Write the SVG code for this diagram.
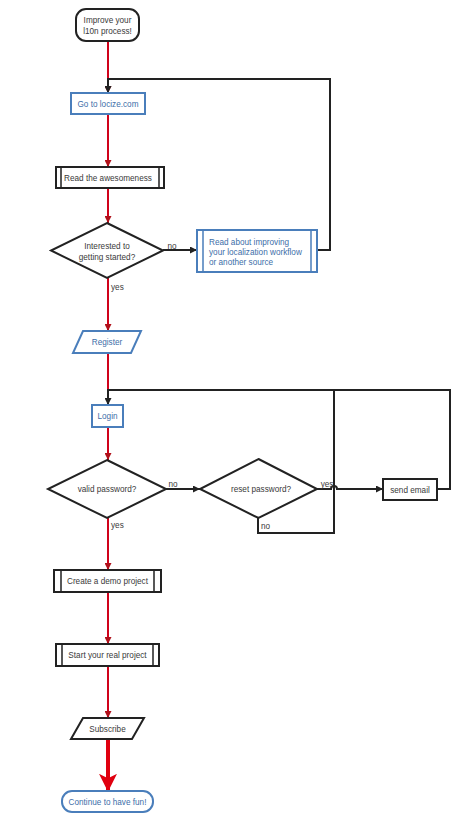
<svg xmlns="http://www.w3.org/2000/svg" width="474" height="825" viewBox="0 0 474 825">
<style>
text{font-family:"Liberation Sans",Arial,sans-serif;font-size:8.2px;fill:#3a3a3a;text-anchor:middle}
.bt{fill:#3d6ea8}
.lt{text-anchor:start}
.k{fill:#fff;stroke:#222;stroke-width:2}
.b{fill:#fff;stroke:#4a7ebb;stroke-width:2}
.in{fill:none;stroke:#222;stroke-width:1.5}
.inb{fill:none;stroke:#4a7ebb;stroke-width:1.5}
.r{fill:none;stroke:#d0021b;stroke-width:2}
.l{fill:none;stroke:#222;stroke-width:2}
</style>
<defs>
<marker id="ar" viewBox="0 0 10 10" refX="10" refY="5" markerWidth="3.5" markerHeight="3.5" orient="auto" markerUnits="strokeWidth"><path d="M0,0L10,5L0,10z" fill="#b0101a"/></marker>
<marker id="ak" viewBox="0 0 10 10" refX="10" refY="5" markerWidth="3.5" markerHeight="3.5" orient="auto" markerUnits="strokeWidth"><path d="M0,0L10,5L0,10z" fill="#222"/></marker>
<marker id="big" viewBox="0 0 20 20" refX="18" refY="10" markerWidth="4.5" markerHeight="4.5" orient="auto" markerUnits="strokeWidth"><path d="M0,0L20,10L0,20L5,10z" fill="#e0000f"/></marker>
</defs>
<g id="connectors">
<path class="r" d="M108,41V93" marker-end="url(#ar)"/>
<path class="r" d="M108,114V167" marker-end="url(#ar)"/>
<path class="r" d="M108,188V223" marker-end="url(#ar)"/>
<path class="r" d="M108,278V331" marker-end="url(#ar)"/>
<path class="r" d="M108,353V405"/>
<path class="r" d="M108,427V460" marker-end="url(#ar)"/>
<path class="r" d="M108,518V570" marker-end="url(#ar)"/>
<path class="r" d="M108,592V644" marker-end="url(#ar)"/>
<path class="r" d="M108,666V718" marker-end="url(#ar)"/>
<path d="M108,739V790" fill="none" stroke="#e0000f" stroke-width="4" marker-end="url(#big)"/>
<path class="l" d="M317,250H330V79H108V93" marker-end="url(#ak)"/>
<path class="l" d="M163,250H197" marker-end="url(#ak)"/>
<path class="l" d="M437,489H450V390H108V405" marker-end="url(#ak)"/>
<path class="l" d="M166,489H200" marker-end="url(#ak)"/>
<path class="l" d="M317,489H331A3,3 0 0 1 337,489H383" marker-end="url(#ak)"/>
<path class="l" d="M258,518V533H334V390"/>
<text x="172" y="249">no</text>
<text class="lt" x="111" y="290">yes</text>
<text x="173" y="487">no</text>
<text x="327" y="487">yes</text>
<text class="lt" x="261" y="529">no</text>
<text class="lt" x="111" y="528">yes</text>
</g>
<g id="start"><rect class="k" x="76" y="9" width="63" height="32" rx="10"/><text x="107.5" y="23">Improve your</text><text x="107.5" y="34">l10n process!</text></g>
<g id="goto"><rect class="b" x="71" y="93" width="74" height="21"/><text class="bt" x="108" y="106.5">Go to locize.com</text></g>
<g id="read"><rect class="k" x="56" y="167" width="108" height="21"/><path class="in" d="M61,167V188M159,167V188"/><text x="108" y="180.5">Read the awesomeness</text></g>
<g id="interested"><path class="k" d="M107,223L163,250.5L107,278L51,250.5z"/><text x="107" y="249">Interested to</text><text x="107" y="260">getting started?</text></g>
<g id="readabout"><rect class="b" x="197" y="230" width="120" height="42"/><path class="inb" d="M203,230V272M311,230V272"/><text class="bt lt" x="209" y="245">Read about improving</text><text class="bt lt" x="209" y="255">your localization workflow</text><text class="bt lt" x="209" y="265">or another source</text></g>
<g id="register"><path class="b" d="M83,331H141L131,353H73z"/><text class="bt" x="107" y="345">Register</text></g>
<g id="login"><rect class="b" x="92" y="405" width="31" height="22"/><text class="bt" x="107.5" y="419">Login</text></g>
<g id="valid"><path class="k" d="M107,460L166,489L107,518L48,489z"/><text x="107" y="492">valid password?</text></g>
<g id="reset"><path class="k" d="M258.5,459L317,489L258.5,518L200,489z"/><text x="261" y="492">reset password?</text></g>
<g id="send"><rect class="k" x="383" y="479" width="54" height="21"/><text x="410" y="492.5">send email</text></g>
<g id="demo"><rect class="k" x="54" y="570" width="107" height="22"/><path class="in" d="M61,570V592M154,570V592"/><text x="107.5" y="584">Create a demo project</text></g>
<g id="real"><rect class="k" x="56" y="644" width="103" height="22"/><path class="in" d="M62,644V666M153,644V666"/><text x="107.5" y="658">Start your real project</text></g>
<g id="subscribe"><path class="k" d="M83,718H144L132,739H71z"/><text x="107.5" y="732">Subscribe</text></g>
<g id="end"><rect class="b" x="62" y="791" width="91" height="21" rx="10"/><text class="bt" x="107.5" y="805">Continue to have fun!</text></g>
</svg>
